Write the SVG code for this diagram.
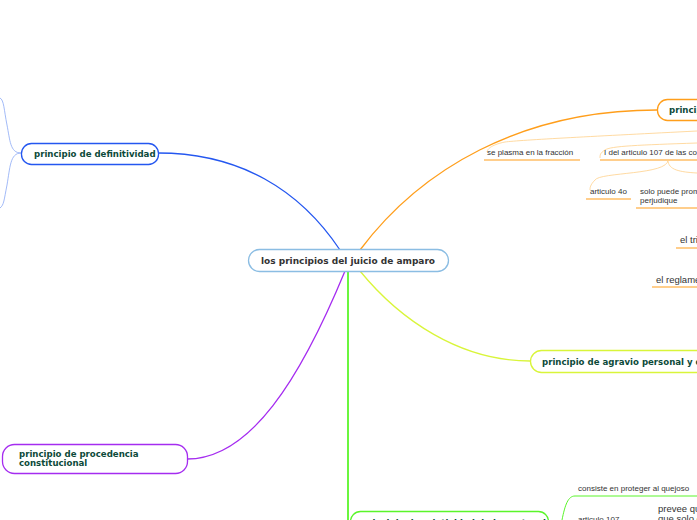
<svg xmlns="http://www.w3.org/2000/svg" width="697" height="520" viewBox="0 0 697 520">
<style>
.n{fill:#fff;stroke-width:1.3}
.t{font-family:"DejaVu Sans",sans-serif;font-weight:bold;font-size:8.6px;fill:#0d4a3a}
.s{font-family:"Liberation Sans",sans-serif;font-size:8px;fill:#333}
.m{font-family:"Liberation Sans",sans-serif;font-size:9.5px;fill:#333}
.c{fill:none}
</style>
<rect width="697" height="520" fill="#fff"/>
<g id="connectors">
<path class="c" d="M340 250 C300 190 240 153 158 153" stroke="#2457f0" stroke-width="1.3"/>
<path class="c" d="M21 153 C10 153 10 140 7 125 C4 110 4 100 0 98" stroke="#8aa8f5" stroke-width="0.8"/>
<path class="c" d="M21 153 C10 153 10 168 7 185 C4 200 4 205 0 208" stroke="#8aa8f5" stroke-width="0.8"/>
<path class="c" d="M360 250 C420 170 520 110 657 110" stroke="#ff9e1b" stroke-width="1.3"/>
<path class="c" d="M697 131 C600 136 520 140 505 142 C490 145 487 150 487 152" stroke="#ffd18a" stroke-width="0.8"/>
<path class="c" d="M697 143 C640 145 610 146 605 150 C600 153 600 155 600 158" stroke="#ffd18a" stroke-width="0.8"/>
<path class="c" d="M484 160 H580 M600 160 H697" stroke="#ff9e1b" stroke-width="1.2"/>
<path class="c" d="M668 160 C668 175 600 172 595 180 C590 185 590 188 590 190" stroke="#ffd18a" stroke-width="0.8"/>
<path class="c" d="M668 160 C668 170 680 172 697 173" stroke="#ffd18a" stroke-width="0.8"/>
<path class="c" d="M586 199 H631 M636 208 H697 M676 248 H697 M652 287 H697" stroke="#ff9e1b" stroke-width="1.2"/>
<path class="c" d="M360 271 C400 320 460 361 530 361" stroke="#d9f53a" stroke-width="1.3"/>
<path class="c" d="M345 271 C300 380 250 459 187 459" stroke="#a52cf0" stroke-width="1.3"/>
<path class="c" d="M348 271 V520" stroke="#5af52a" stroke-width="1.8"/>
<path class="c" d="M562 520 C565 505 568 496 575 496 H697" stroke="#5af52a" stroke-width="1"/>
</g>
<g id="central"><rect class="n" x="248.5" y="249.5" width="200" height="22" rx="11" stroke="#8bbde3" stroke-width="1.6"/><text x="348" y="264" text-anchor="middle" font-family="DejaVu Sans,sans-serif" font-weight="bold" font-size="9" fill="#333">los principios del juicio de amparo</text></g>
<g id="definitividad"><rect class="n" x="21.5" y="143.5" width="137" height="21" rx="10" stroke="#2457f0"/><text class="t" x="34" y="157">principio de definitividad</text></g>
<g id="orange"><rect class="n" x="657.5" y="99.5" width="80" height="21" rx="10" stroke="#ff9e1b"/><text class="t" x="669" y="113">principio de instancia de parte</text></g>
<g id="o1"><text class="s" x="487" y="155">se plasma en la fracción</text></g>
<g id="o2"><text class="s" x="604" y="155">I del articulo 107 de las constitución</text></g>
<g id="o3"><text class="s" x="590" y="194">articulo 4o</text></g>
<g id="o4"><text class="s" x="640" y="194">solo puede promoverse por la parte a quien</text><text class="s" x="640" y="203">perjudique</text></g>
<g id="o5"><text class="m" x="680" y="243">el tribunal</text></g>
<g id="o6"><text class="m" x="656" y="283">el reglamento</text></g>
<g id="agravio"><rect class="n" x="530.5" y="350.5" width="190" height="22" rx="11" stroke="#d9f53a"/><text class="t" x="542" y="365">principio de agravio personal y directo</text></g>
<g id="procedencia"><rect class="n" x="2.5" y="444.5" width="185" height="29" rx="12" stroke="#a52cf0"/><text class="t" x="19" y="457">principio de procedencia</text><text class="t" x="19" y="466">constitucional</text></g>
<g id="relatividad"><rect class="n" x="350.5" y="511.5" width="198" height="22" rx="10" stroke="#5af52a"/><text class="t" x="362" y="526">principio de relatividad de la sentencia</text></g>
<g id="g1"><text class="s" x="578" y="491">consiste en proteger al quejoso</text></g>
<g id="g2"><text class="s" x="578" y="522">articulo 107</text></g>
<g id="g3"><text class="m" x="658" y="512">prevee que</text><text class="m" x="658" y="522">que solo el</text></g>
</svg>
